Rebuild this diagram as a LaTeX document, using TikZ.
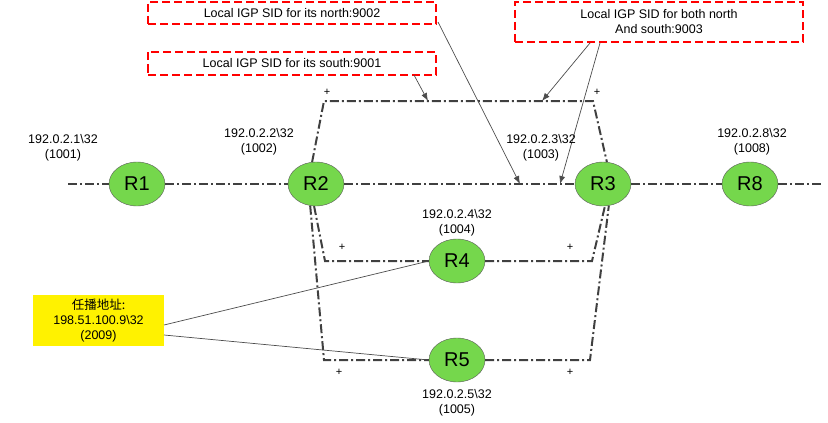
\documentclass[tikz,border=0pt]{standalone}
\usepackage{fontspec}
\setmainfont{Liberation Sans}
\newfontfamily\cjk{Noto Sans CJK SC}
\usetikzlibrary{arrows.meta,shapes.geometric}
\begin{document}
\begin{tikzpicture}[x=1pt,y=-1pt,
  router/.style={ellipse,draw=gray!70!black,fill=green!55!olive!70!white,minimum width=56pt,minimum height=44pt,inner sep=0pt,font=\fontsize{20}{20}\selectfont},
  link/.style={draw=black!75,line width=2pt,dash pattern=on 9pt off 3pt on 2pt off 3pt},
  thin/.style={draw=black!70,line width=0.7pt},
  call/.style={draw=red,line width=2pt,dash pattern=on 8pt off 4pt,font=\fontsize{12.5}{15}\selectfont,align=center,inner sep=2pt},
  lbl/.style={font=\fontsize{12.5}{15}\selectfont,align=center},
  arr/.style={thin,-{Latex[length=8pt]}},
  plus/.style={font=\fontsize{11}{11}\selectfont}]
\useasboundingbox (0,0) rectangle (828,423);
\coordinate (L) at (68,184); \coordinate (Rr) at (822,184);
\node[router] (R1) at (137,184) {R1};
\node[router] (R2) at (316,184) {R2};
\node[router] (R3) at (603,184) {R3};
\node[router] (R8) at (750,184) {R8};
\node[router] (R4) at (457,261) {R4};
\node[router] (R5) at (457,360) {R5};
\coordinate (tl) at (324,101); \coordinate (tr) at (593,101);
\coordinate (m4l) at (325,261); \coordinate (m4r) at (592,261);
\coordinate (m5l) at (324,360); \coordinate (m5r) at (590,360);
\draw[link] (L) -- (R1) -- (R2) -- (R3) -- (R8) -- (Rr);
\draw[link] (R2.100) -- (tl) -- (tr) -- (R3.80);
\draw[link] (R2.265) -- (m4l) -- (R4) -- (m4r) -- (R3.275);
\draw[link] (R2.255) -- (m5l) -- (R5) -- (m5r) -- (R3.285);
\node[plus] at (327,92) {+}; \node[plus] at (597,92) {+};
\node[plus] at (342,247) {+}; \node[plus] at (570,247) {+};
\node[plus] at (339,372) {+}; \node[plus] at (570,372) {+};
\node[call,minimum width=288pt,minimum height=22pt] (cn) at (292,13) {Local IGP SID for its north:9002};
\node[call,minimum width=288pt,minimum height=23pt] (cs) at (292,63) {Local IGP SID for its south:9001};
\node[call,minimum width=288pt,minimum height=40pt] (cb) at (659,22) {Local IGP SID for both north\\And south:9003};
\coordinate (a1) at (428,101); \coordinate (a2) at (520,184);
\coordinate (a3) at (542,101); \coordinate (a4) at (560,184);
\coordinate (s1) at (414,75); \coordinate (s2) at (438,22);
\coordinate (s3) at (590,43); \coordinate (s4) at (600,43);
\draw[arr] (s1) -- (a1);
\draw[arr] (s2) -- (a2);
\draw[arr] (s3) -- (a3);
\draw[arr] (s4) -- (a4);
\node[lbl] at (63,148) {192.0.2.1\textbackslash 32\\(1001)};
\node[lbl] at (259,142) {192.0.2.2\textbackslash 32\\(1002)};
\node[lbl] at (541,148) {192.0.2.3\textbackslash 32\\(1003)};
\node[lbl] at (752,142) {192.0.2.8\textbackslash 32\\(1008)};
\node[lbl] at (457,223) {192.0.2.4\textbackslash 32\\(1004)};
\node[lbl] at (457,403) {192.0.2.5\textbackslash 32\\(1005)};
\node[lbl,fill=yellow,minimum width=131pt,minimum height=51pt,inner sep=0pt] (any) at (98.5,320.5) {{\cjk 任播地址:}\\198.51.100.9\textbackslash 32\\(2009)};
\draw[thin] (164,325) -- (R4.west);
\draw[thin] (164,335) -- (R5.west);
\end{tikzpicture}
\end{document}
